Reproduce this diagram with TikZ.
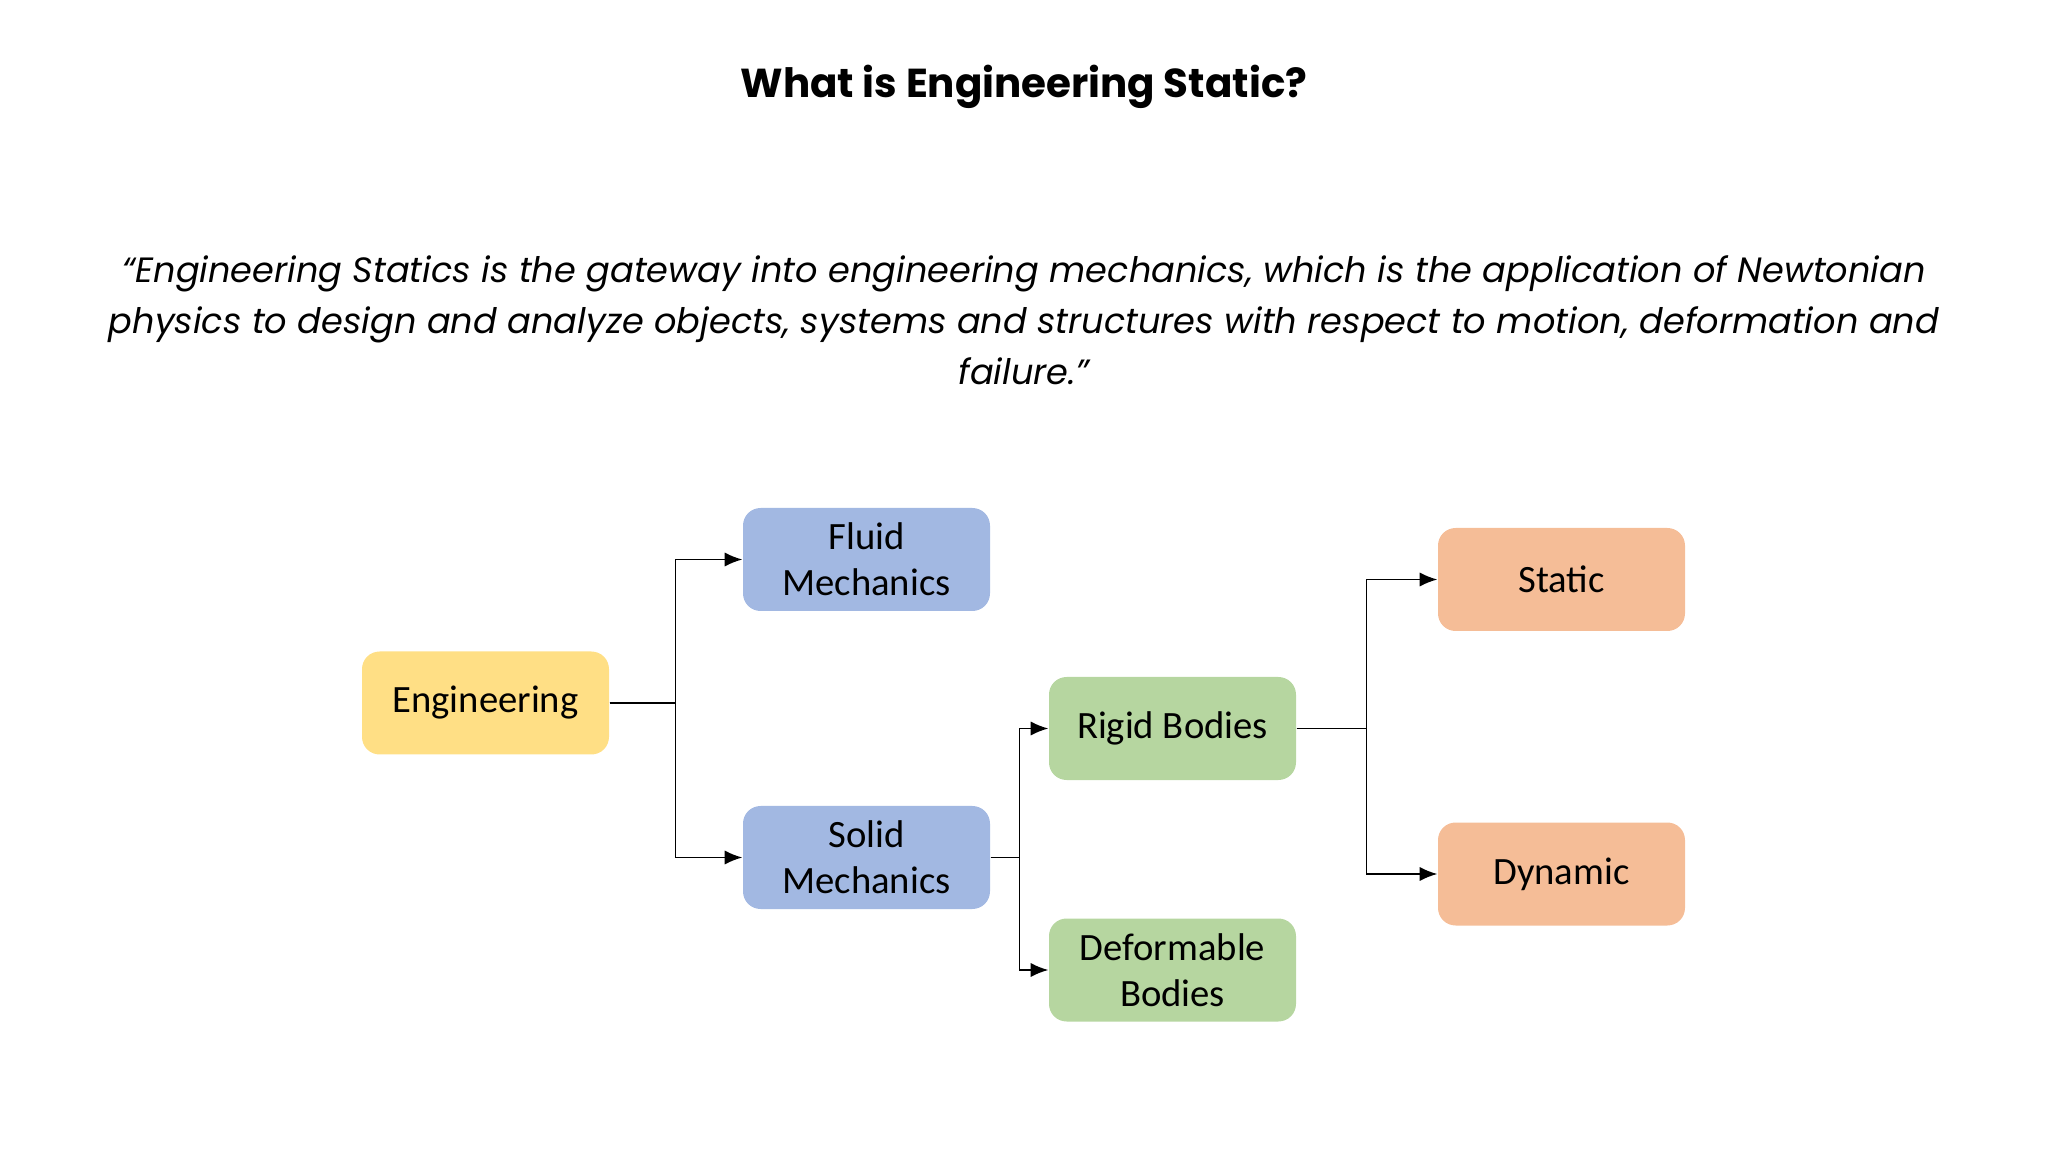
\documentclass[tikz,border=0pt]{standalone}
\usepackage{fontspec}
\setmainfont{Carlito}
\newfontfamily\titlefont{Poppins}
\usetikzlibrary{arrows.meta,positioning}

\definecolor{engyellow}{HTML}{FFDF85}
\definecolor{mechblue}{HTML}{A2B8E2}
\definecolor{bodygreen}{HTML}{B6D6A0}
\definecolor{motionorange}{HTML}{F5BD97}

\begin{document}
\begin{tikzpicture}[
    box/.style={rectangle,rounded corners=5pt,minimum width=2.47cm,minimum height=1.03cm,align=center,font=\fontsize{11}{13}\selectfont,inner sep=1pt},
    arrow/.style={-{Latex[length=5pt,width=4pt]},thin}
]
    \useasboundingbox (0,0) rectangle (20.48,-11.52);

    % Title and quote
    \node[font=\titlefont\bfseries\fontsize{11.5}{13}\selectfont] (title) at (10.24,-0.87) {What is Engineering Static?};
    \node[font=\titlefont\itshape\fontsize{10}{14.5}\selectfont,align=center] (quote) at (10.24,-3.20)
        {“Engineering Statics is the gateway into engineering mechanics, which is the application of Newtonian\\
        physics to design and analyze objects, systems and structures with respect to motion, deformation and\\
        failure.”};

    % First level
    \node[box,fill=engyellow] (eng) at (4.855,-7.03) {Engineering};

    % Second level: mechanics
    \node[box,fill=mechblue] (fluid) at (8.665,-5.595) {Fluid\\Mechanics};
    \node[box,fill=mechblue] (solid) at (8.665,-8.575) {Solid\\Mechanics};

    % Third level: bodies
    \node[box,fill=bodygreen] (rigid) at (11.725,-7.285) {Rigid Bodies};
    \node[box,fill=bodygreen] (deform) at (11.725,-9.70) {Deformable\\Bodies};

    % Fourth level: motion
    \node[box,fill=motionorange] (static) at (15.615,-5.795) {Static};
    \node[box,fill=motionorange] (dynamic) at (15.615,-8.74) {Dynamic};

    % Branches
    \draw[arrow] (eng.east) -- ++(0.66,0) |- (fluid.west);
    \draw[arrow] (eng.east) -- ++(0.66,0) |- (solid.west);
    \draw[arrow] (solid.east) -- ++(0.29,0) |- (rigid.west);
    \draw[arrow] (solid.east) -- ++(0.29,0) |- (deform.west);
    \draw[arrow] (rigid.east) -- ++(0.70,0) |- (static.west);
    \draw[arrow] (rigid.east) -- ++(0.70,0) |- (dynamic.west);
\end{tikzpicture}
\end{document}
